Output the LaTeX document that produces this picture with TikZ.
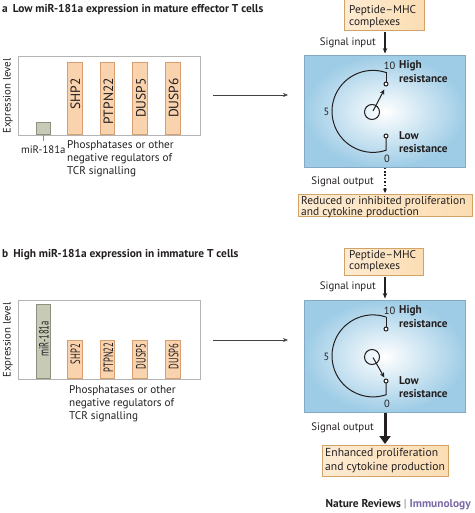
\documentclass[tikz,border=0pt]{standalone}
\usepackage{fontspec}
\setmainfont{PT Sans}
\usetikzlibrary{arrows.meta}
\definecolor{ink}{HTML}{231F20}
\definecolor{framegray}{HTML}{B4B4B4}
\definecolor{orfill}{HTML}{F9D2AE}
\definecolor{ordraw}{HTML}{D79E70}
\definecolor{grfill}{HTML}{C8CAB8}
\definecolor{grdraw}{HTML}{8E907E}
\definecolor{boxfillL}{HTML}{FDEBD2}
\definecolor{boxfillR}{HTML}{FBDDB3}
\definecolor{boxdraw}{HTML}{D3A266}
\definecolor{blueout}{HTML}{9ECCE6}
\definecolor{bluedraw}{HTML}{83A9C3}
\definecolor{purp}{HTML}{7A6AA6}
\begin{document}
\begin{tikzpicture}[x=1pt,y=-1pt,
  every node/.style={text=ink, inner sep=0pt},
  title/.style={font=\fontsize{11.4}{12}\selectfont\bfseries, anchor=west},
  body/.style={font=\fontsize{11.2}{13}\selectfont, align=left},
  small/.style={font=\fontsize{10.8}{12}\selectfont},
  chartframe/.style={draw=framegray, line width=0.7, anchor=north west},
  obar/.style={draw=ordraw, fill=orfill, line width=0.6, minimum width=14.5, anchor=south},
  gbar/.style={draw=grdraw, fill=grfill, line width=0.6, minimum width=14.5, anchor=south},
  barlabA/.style={rotate=90, anchor=east, font=\fontsize{13.5}{13.5}\selectfont},
  barlabB/.style={rotate=90, anchor=east, font=\fontsize{13.5}{13.5}\selectfont},
  infobox/.style={draw=boxdraw, line width=0.6, left color=boxfillL, right color=boxfillR, anchor=north west},
  dialbox/.style={draw=bluedraw, line width=0.6, inner color=white, outer color=blueout, anchor=north west},
  dialline/.style={draw=ink, line width=1.0},
  thinarrow/.style={draw=ink!85, line width=0.9, -{Stealth[length=5pt,width=4pt]}},
  inarrow/.style={draw=ink, line width=1.2, -{Stealth[length=5.5pt,width=4.5pt]}},
  dotarrow/.style={draw=ink, line width=1.4, dash pattern=on 1.6pt off 1.8pt, -{Stealth[length=4.5pt,width=4pt]}},
  thickarrow/.style={draw=ink, line width=3, -{Triangle[length=8pt,width=11pt]}},
  reslab/.style={font=\fontsize{11.3}{12}\selectfont\bfseries, anchor=west},
  numlab/.style={font=\fontsize{10.5}{11}\selectfont}
]
\useasboundingbox (0,0) rectangle (474,513);

% ================= Panel a =================
\node[title] (titleA) at (2,10) {a\hspace{5pt}Low miR-181a expression in mature effector T cells};

\node[chartframe, minimum width=182, minimum height=79] (chartA) at (18,56) {};
\node[small, rotate=90] (ylabA) at (8,96) {Expression level};
\node[gbar, minimum height=12] (mirA) at (43.3,135) {};
\draw[draw=grdraw, line width=0.6] (mirA.south) -- ++(0,6) coordinate (mirTickA);
\node[small] (mirlabA) at (43.3,150) {miR-181a};
\node[obar, minimum height=72] (shpA) at (74.7,135) {};
\node[obar, minimum height=72] (ptpA) at (107.5,135) {};
\node[obar, minimum height=72] (du5A) at (140,135) {};
\node[obar, minimum height=72] (du6A) at (172.8,135) {};
\node[barlabA] (shpLA) at (75.5,78) {SHP2};
\node[barlabA] (ptpLA) at (108.3,78) {PTPN22};
\node[barlabA] (du5LA) at (140.8,78) {DUSP5};
\node[barlabA] (du6LA) at (173.6,78) {DUSP6};
\node[body, anchor=west] (phosA) at (67,159) {Phosphatases or other\\negative regulators of\\TCR signalling};

\coordinate (arrAs) at (213,95);
\coordinate (arrAe) at (288,95);
\draw[thinarrow] (arrAs) -- (arrAe);

\node[infobox, minimum width=80, minimum height=33] (pepA) at (344,-3) {};
\node[body, font=\fontsize{11.3}{12}\selectfont, anchor=west] (pepTA) at (349,17) {Peptide–MHC\\complexes};
\node[dialbox, minimum width=161, minimum height=112] (dialA) at (304,55) {};
\draw[inarrow, shorten <=1.5pt, shorten >=1.5pt] (pepA.south -| 385,0) -- (dialA.north -| 385,0);
\node[small, anchor=east] (sinA) at (376,43) {Signal input};

% dial a
\draw[dialline] (386,72.5) arc[start angle=-71.5, end angle=-288.5, radius=41] -- (386,138);
\draw[dialline] (386,72.5) -- (386,82);
\draw[dialline, fill=white] (386,84) circle[radius=2];
\draw[dialline, fill=white] (386,136) circle[radius=2];
\draw[dialline] (372,112) circle[radius=7.5];
\draw[dialline, -{Stealth[length=5pt,width=4.5pt]}] (373,111) -- (384.3,89.5);
\node[numlab] (tenA) at (389.5,66) {10};
\node[numlab] (fiveA) at (326.5,112) {5};
\node[numlab] (zeroA) at (387,158.5) {0};
\node[reslab] (highA) at (399,66) {High};
\node[reslab] (hresA) at (399,79) {resistance};
\node[reslab] (lowA) at (399,136) {Low};
\node[reslab] (lresA) at (399,149) {resistance};

\node[infobox, minimum width=174, minimum height=22] (outA) at (298,194) {};
\node[body, font=\fontsize{11.4}{11}\selectfont, anchor=west] (outTA) at (301,207) {Reduced or inhibited proliferation\\and cytokine production};
\draw[dotarrow, shorten >=1pt] (dialA.south -| 385,0) -- (outA.north -| 385,0);
\node[small, anchor=east] (soutA) at (374,182) {Signal output};

% ================= Panel b =================
\node[title] (titleB) at (2,255) {b\hspace{5pt}High miR-181a expression in immature T cells};

\node[chartframe, minimum width=182, minimum height=79] (chartB) at (18,300) {};
\node[small, rotate=90] (ylabB) at (8,340) {Expression level};
\node[gbar, minimum height=74] (mirB) at (43.3,379) {};
\node[obar, minimum height=38] (shpB) at (74.7,379) {};
\node[obar, minimum height=38] (ptpB) at (107.5,379) {};
\node[obar, minimum height=38] (du5B) at (140,379) {};
\node[obar, minimum height=38] (du6B) at (172.8,379) {};
\node[barlabB] (mirLB) at (44,321) {\scalebox{0.64}[1]{miR-181a}};
\node[barlabB] (shpLB) at (75.5,344) {\scalebox{0.64}[1]{SHP2}};
\node[barlabB] (ptpLB) at (108.3,342.5) {\scalebox{0.64}[1]{PTPN22}};
\node[barlabB] (du5LB) at (140.8,343.5) {\scalebox{0.64}[1]{DUSP5}};
\node[barlabB] (du6LB) at (173.6,343.5) {\scalebox{0.64}[1]{DUSP6}};
\node[body, anchor=west] (phosB) at (69,404) {Phosphatases or other\\negative regulators of\\TCR signalling};

\coordinate (arrBs) at (213,340);
\coordinate (arrBe) at (288,340);
\draw[thinarrow] (arrBs) -- (arrBe);

\node[infobox, minimum width=79, minimum height=27] (pepB) at (344,248) {};
\node[body, font=\fontsize{11.3}{11.5}\selectfont, anchor=west] (pepTB) at (349,261) {Peptide–MHC\\complexes};
\node[dialbox, minimum width=161, minimum height=112] (dialB) at (304,300) {};
\draw[inarrow, shorten <=1.5pt, shorten >=1.5pt] (pepB.south -| 385,0) -- (dialB.north -| 385,0);
\node[small, anchor=east] (sinB) at (376,287) {Signal input};

% dial b
\draw[dialline] (386,317) arc[start angle=-71.5, end angle=-288.5, radius=41] -- (386,383);
\draw[dialline] (386,317) -- (386,327);
\draw[dialline, fill=white] (386,329) circle[radius=2];
\draw[dialline, fill=white] (386,381) circle[radius=2];
\draw[dialline] (372,357) circle[radius=7.5];
\draw[dialline, -{Stealth[length=5pt,width=4.5pt]}] (373,357.5) -- (384.3,377.5);
\node[numlab] (tenB) at (389.5,311) {10};
\node[numlab] (fiveB) at (326.5,357) {5};
\node[numlab] (zeroB) at (387,404) {0};
\node[reslab] (highB) at (399,311) {High};
\node[reslab] (hresB) at (399,324) {resistance};
\node[reslab] (lowB) at (399,381) {Low};
\node[reslab] (lresB) at (399,394) {resistance};

\node[infobox, minimum width=126, minimum height=31] (outB) at (322,445) {};
\node[body, font=\fontsize{11.6}{14}\selectfont, anchor=west] (outTB) at (325,460.5) {Enhanced proliferation\\and cytokine production};
\draw[thickarrow, shorten >=1pt] (dialB.south -| 385,0) -- (outB.north -| 385,0);
\node[small, anchor=east] (soutB) at (374,428) {Signal output};

\node[font=\fontsize{11.4}{12}\selectfont, anchor=east] (credit) at (471,505) {\textbf{Nature Reviews} {\color{gray}|} {\color{purp}\textbf{Immunology}}};
\end{tikzpicture}
\end{document}
